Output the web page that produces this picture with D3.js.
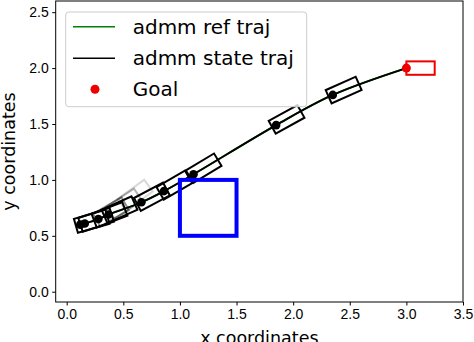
<!DOCTYPE html>
<html>
<head>
<meta charset="utf-8">
<script src="https://cdn.jsdelivr.net/npm/d3@7"></script>
<style>
  body { margin: 0; background: #fff; }
  svg { display: block; font-family: "DejaVu Sans", sans-serif; }
</style>
</head>
<body>
<div id="chart"></div>
<script>
var width = 474;
var height = 342;
var margin = { left: 55.7, right: 11, top: 1, bottom: 40 };

// state trajectory (rear axle points) and heading in degrees
var stateX = [0.12, 0.16, 0.28, 0.37, 0.66, 0.86, 1.12, 1.85, 2.35, 3.0];
var stateY = [0.60, 0.61, 0.65, 0.69, 0.80, 0.90, 1.05, 1.49, 1.76, 2.0];
var heading = [16, 18, 21, 24, 28, 30, 31, 29, 24, 20];

// faded boxes near the start
var ghostX = [0.30, 0.42, 0.52];
var ghostY = [0.66, 0.73, 0.80];
var ghostHeading = [30, 33, 36];
var ghostAlpha = [0.45, 0.3, 0.15];

var goal = [3.0, 2.0];
var obstacle = { x0: 1.0, x1: 1.5, y0: 0.5, y1: 1.0 };

var xTicks = [0, 0.5, 1.0, 1.5, 2.0, 2.5, 3.0, 3.5];
var yTicks = [0, 0.5, 1.0, 1.5, 2.0, 2.5];
var legendLabels = ["admm ref traj", "admm state traj", "Goal"];

var scalex = d3.scaleLinear().domain([-0.097, 3.5]).range([margin.left, width - margin.right]);
var scaley = d3.scaleLinear().domain([-0.092, 2.6]).range([height - margin.bottom, margin.top]);

var svg = d3.select("#chart").append("svg").attr("width", width).attr("height", height);

// axes
var xaxis = d3.axisBottom(scalex).tickValues(xTicks).tickFormat(d3.format(".1f")).tickSize(3.5).tickPadding(3.5);
var yaxis = d3.axisLeft(scaley).tickValues(yTicks).tickFormat(d3.format(".1f")).tickSize(3.5).tickPadding(3.5);

var gx = svg.append("g").attr("transform", "translate(0," + (height - margin.bottom) + ")").call(xaxis);
var gy = svg.append("g").attr("transform", "translate(" + margin.left + ",0)").call(yaxis);
[gx, gy].forEach(function (g) {
  g.select(".domain").remove();
  g.selectAll("text").style("font-size", "14px").attr("fill", "#000");
  g.selectAll("line").attr("stroke", "#000");
});

// frame
svg.append("rect")
  .attr("x", margin.left).attr("y", margin.top)
  .attr("width", width - margin.right - margin.left)
  .attr("height", height - margin.bottom - margin.top)
  .attr("fill", "none").attr("stroke", "#000").attr("stroke-width", 1);

var plot = svg.append("g");

var pts = stateX.map(function (x, i) { return [x, stateY[i]]; });
var line = d3.line().x(function (d) { return scalex(d[0]); }).y(function (d) { return scaley(d[1]); }).curve(d3.curveCatmullRom);

// reference path (under the state path)
plot.append("path").attr("d", line(pts)).attr("fill", "none").attr("stroke", "green").attr("stroke-width", 1.8);
plot.append("path").attr("d", line(pts)).attr("fill", "none").attr("stroke", "#000").attr("stroke-width", 1.8);

// car footprints
var back = 0.04, front = 0.25, half = 0.065;
function drawBox(x, y, ang, alpha) {
  var lx = scalex(front) - scalex(0);
  var bx = scalex(back) - scalex(0);
  var hw = scaley(0) - scaley(half);
  plot.append("rect")
    .attr("transform", "translate(" + scalex(x) + "," + scaley(y) + ") rotate(" + (-ang) + ")")
    .attr("x", -bx).attr("y", -hw)
    .attr("width", lx + bx).attr("height", 2 * hw)
    .attr("fill", "none").attr("stroke", "#000").attr("stroke-opacity", alpha).attr("stroke-width", 2);
}
ghostX.forEach(function (x, i) { drawBox(x, ghostY[i], ghostHeading[i], ghostAlpha[i]); });
for (var i = 0; i < stateX.length - 1; i++) drawBox(stateX[i], stateY[i], heading[i], 1);

plot.selectAll("circle.state")
  .data(pts.slice(0, -1))
  .enter()
  .append("circle")
  .attr("cx", function (d) { return scalex(d[0]); })
  .attr("cy", function (d) { return scaley(d[1]); })
  .attr("r", 4.3)
  .attr("fill", "#000");

// goal
plot.append("rect")
  .attr("x", scalex(goal[0])).attr("y", scaley(goal[1] + 0.06))
  .attr("width", scalex(goal[0] + 0.25) - scalex(goal[0]))
  .attr("height", scaley(goal[1] - 0.06) - scaley(goal[1] + 0.06))
  .attr("fill", "none").attr("stroke", "#e00").attr("stroke-width", 2);
plot.append("circle").attr("cx", scalex(goal[0])).attr("cy", scaley(goal[1])).attr("r", 4.5).attr("fill", "#e00");

// obstacle
plot.append("rect")
  .attr("x", scalex(obstacle.x0)).attr("y", scaley(obstacle.y1))
  .attr("width", scalex(obstacle.x1) - scalex(obstacle.x0))
  .attr("height", scaley(obstacle.y0) - scaley(obstacle.y1))
  .attr("fill", "none").attr("stroke", "#0000ff").attr("stroke-width", 4);

// legend
var lg = svg.append("g");
lg.append("rect").attr("x", 65.7).attr("y", 12).attr("width", 241).attr("height", 94.7)
  .attr("rx", 3).attr("fill", "#fff").attr("fill-opacity", 0.8).attr("stroke", "#ccc");
var rowY = [26.7, 58.3, 89.3];
lg.append("line").attr("x1", 73).attr("x2", 115).attr("y1", rowY[0]).attr("y2", rowY[0]).attr("stroke", "green").attr("stroke-width", 1.5);
lg.append("line").attr("x1", 73).attr("x2", 115).attr("y1", rowY[1]).attr("y2", rowY[1]).attr("stroke", "#000").attr("stroke-width", 1.5);
lg.append("circle").attr("cx", 95).attr("cy", rowY[2]).attr("r", 4.5).attr("fill", "#e00");
lg.selectAll("text.lab").data(legendLabels).enter().append("text")
  .attr("x", 132.7).attr("y", function (d, i) { return rowY[i] + 7; })
  .style("font-size", "20px").text(function (d) { return d; });

// axis labels
svg.append("text").attr("x", (margin.left + width - margin.right) / 2).attr("y", 344)
  .attr("text-anchor", "middle").style("font-size", "17.5px").text("x coordinates");
svg.append("text").attr("transform", "translate(14.5," + (margin.top + height - margin.bottom) / 2 + ") rotate(-90)")
  .attr("text-anchor", "middle").style("font-size", "17.5px").text("y coordinates");
</script>
</body>
</html>
